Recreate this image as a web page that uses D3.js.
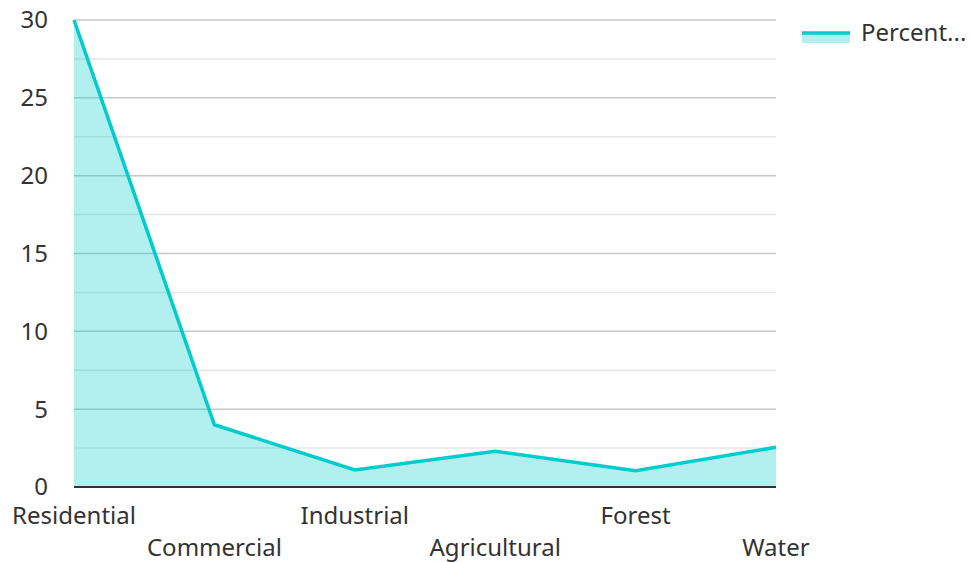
<!DOCTYPE html>
<html>
<head>
<meta charset="utf-8">
<script src="https://cdn.jsdelivr.net/npm/d3@7"></script>
<style>
  body { margin: 0; background: #fff; }
  text { font-family: "Noto Sans", sans-serif; fill: #333; }
</style>
</head>
<body>
<svg id="chart" width="971" height="562"></svg>
<script>
const categories = ["Residential", "Commercial", "Industrial", "Agricultural", "Forest", "Water"];
const percent = [30, 4, 1.1, 2.3, 1.05, 2.55];
const yTicks = [0, 5, 10, 15, 20, 25, 30];
const minorTicks = [2.5, 7.5, 12.5, 17.5, 22.5, 27.5];
const seriesName = "Percent...";

let svg = d3.select("#chart"),
  margin = {top: 20, right: 195, bottom: 75, left: 74},
  width = svg.attr("width") - margin.left - margin.right,
  height = svg.attr("height") - margin.top - margin.bottom;

let x = d3.scalePoint().domain(categories).range([0, width]);
let y = d3.scaleLinear().domain([0, 30]).range([height, 0]);

let g = svg.append("g")
  .attr("transform", "translate(" + margin.left + "," + margin.top + ")");

// grid lines
g.selectAll(".minor")
  .data(minorTicks)
  .enter().append("line")
  .attr("x1", 0).attr("x2", width)
  .attr("y1", d => y(d)).attr("y2", d => y(d))
  .attr("stroke", "#e6e6e6").attr("stroke-width", 1.5);
g.selectAll(".major")
  .data(yTicks.slice(1))
  .enter().append("line")
  .attr("x1", 0).attr("x2", width)
  .attr("y1", d => y(d)).attr("y2", d => y(d))
  .attr("stroke", "#c8c8c8").attr("stroke-width", 1.5);

// area + line
let area = d3.area()
  .x((d, i) => x(categories[i]))
  .y0(height)
  .y1(d => y(d));
let line = d3.line()
  .x((d, i) => x(categories[i]))
  .y(d => y(d));

g.append("path")
  .datum(percent)
  .attr("d", area)
  .attr("fill", "#00cccc")
  .attr("fill-opacity", 0.3);

g.append("path")
  .datum(percent)
  .attr("d", line)
  .attr("fill", "none")
  .attr("stroke", "#00cccc")
  .attr("stroke-width", 3.5);

// y axis labels
g.selectAll(".ylab")
  .data(yTicks)
  .enter().append("text")
  .attr("x", -26)
  .attr("y", d => y(d))
  .attr("dy", "0.35em")
  .attr("text-anchor", "end")
  .style("font-size", "24px")
  .text(d => d);

// x axis line
g.append("line")
  .attr("x1", 0).attr("x2", width)
  .attr("y1", height).attr("y2", height)
  .attr("stroke", "#333").attr("stroke-width", 2);

// x axis labels, staggered
g.selectAll(".xlab")
  .data(categories)
  .enter().append("text")
  .attr("x", d => x(d))
  .attr("y", (d, i) => height + (i % 2 ? 61 : 29))
  .attr("dy", "0.35em")
  .attr("text-anchor", "middle")
  .style("font-size", "24px")
  .text(d => d);

// legend
let legend = svg.append("g").attr("transform", "translate(802,33)");
legend.append("rect")
  .attr("x", 0).attr("y", 0)
  .attr("width", 48).attr("height", 10)
  .attr("fill", "#00cccc").attr("fill-opacity", 0.3);
legend.append("line")
  .attr("x1", 0).attr("x2", 48)
  .attr("y1", 0).attr("y2", 0)
  .attr("stroke", "#00cccc").attr("stroke-width", 3.5);
legend.append("text")
  .attr("x", 59).attr("y", 0)
  .attr("dy", "0.35em")
  .style("font-size", "24px")
  .text(seriesName);
</script>
</body>
</html>
